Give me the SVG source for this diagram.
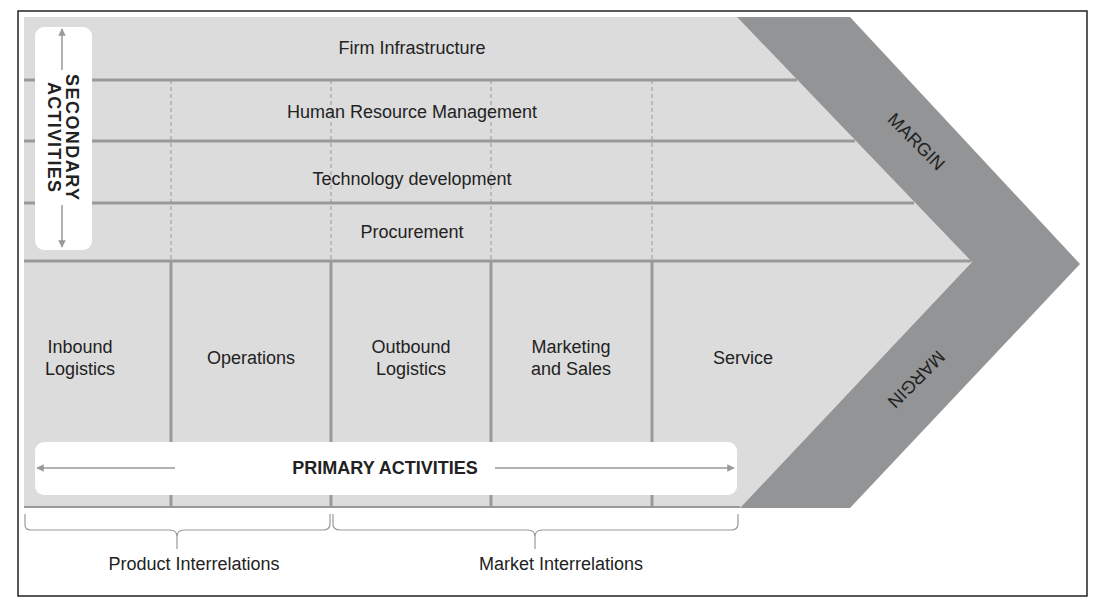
<svg xmlns="http://www.w3.org/2000/svg" width="1101" height="600" viewBox="0 0 1101 600">
<style>
text{font-family:"Liberation Sans",Arial,sans-serif;fill:#222;font-size:18px;text-anchor:middle}
.b{font-weight:bold}
.h{stroke:#999;stroke-width:3}
.d{stroke:#999;stroke-width:1;stroke-dasharray:4,3}
.v{stroke:#999;stroke-width:3}
.ar{stroke:#999;stroke-width:1.5;fill:none}
.br{stroke:#999;stroke-width:1.2;fill:none}
</style>
<defs><marker id="a" viewBox="0 0 10 10" refX="9" refY="5" markerWidth="5" markerHeight="5" orient="auto-start-reverse"><path d="M0,0L10,5L0,10z" fill="#999"/></marker></defs>
<rect x="18" y="11" width="1069" height="585" fill="#fff" stroke="#222" stroke-width="1.5"/>
<g id="body">
<polygon points="24,17 737,17 972,262 740,508 24,508" fill="#dcdcdd"/>
<polygon points="737,17 850,17 1080,264 850,508 740,508 972,262" fill="#939496"/>
</g>
<g id="lines">
<line class="h" x1="24" y1="80" x2="797" y2="80"/>
<line class="h" x1="24" y1="141" x2="855" y2="141"/>
<line class="h" x1="24" y1="203" x2="914" y2="203"/>
<line class="h" x1="24" y1="261" x2="971" y2="261"/>
<line class="d" x1="171" y1="80" x2="171" y2="261"/>
<line class="d" x1="331" y1="80" x2="331" y2="261"/>
<line class="d" x1="491" y1="80" x2="491" y2="261"/>
<line class="d" x1="652" y1="80" x2="652" y2="261"/>
<line class="v" x1="171" y1="261" x2="171" y2="508"/>
<line class="v" x1="331" y1="261" x2="331" y2="508"/>
<line class="v" x1="491" y1="261" x2="491" y2="508"/>
<line class="v" x1="652" y1="261" x2="652" y2="508"/>
<line stroke="#999" stroke-width="2" x1="24" y1="507" x2="740" y2="507"/>
</g>
<g id="secondary">
<text x="412" y="54">Firm Infrastructure</text>
<text x="412" y="118">Human Resource Management</text>
<text x="412" y="185">Technology development</text>
<text x="412" y="238">Procurement</text>
</g>
<g id="primary">
<text x="80" y="353">Inbound</text><text x="80" y="375">Logistics</text>
<text x="251" y="364">Operations</text>
<text x="411" y="353">Outbound</text><text x="411" y="375">Logistics</text>
<text x="571" y="353">Marketing</text><text x="571" y="375">and Sales</text>
<text x="743" y="364">Service</text>
</g>
<g id="margin">
<text transform="translate(912,146) rotate(45)">MARGIN</text>
<text transform="translate(912,375) rotate(135)">MARGIN</text>
</g>
<g id="secondary-label">
<rect x="35" y="27" width="57" height="223" rx="9" fill="#fff"/>
<line class="ar" x1="62" y1="70" x2="62" y2="29" marker-end="url(#a)"/>
<line class="ar" x1="62" y1="205" x2="62" y2="247" marker-end="url(#a)"/>
<text class="b" transform="translate(62,137) rotate(90)" dy="-4" textLength="126">SECONDARY</text>
<text class="b" transform="translate(62,137) rotate(90)" dy="14" textLength="110">ACTIVITIES</text>
</g>
<g id="primary-label">
<rect x="35" y="442" width="702" height="53" rx="9" fill="#fff"/>
<line class="ar" x1="175" y1="468" x2="37" y2="468" marker-end="url(#a)"/>
<line class="ar" x1="495" y1="468" x2="734" y2="468" marker-end="url(#a)"/>
<text class="b" x="385" y="474">PRIMARY ACTIVITIES</text>
</g>
<g id="connectors">
<path class="br" d="M25,514 V525 Q25,530 31,530 H170 Q177,530 177,537 V549 M177,537 Q177,530 184,530 H323 Q330,530 330,524 V514"/>
<path class="br" d="M333,514 V524 Q333,530 340,530 H528 Q535,530 535,537 V549 M535,537 Q535,530 542,530 H731 Q738,530 738,524 V514"/>
<text x="194" y="570">Product Interrelations</text>
<text x="561" y="570">Market Interrelations</text>
</g>
</svg>
